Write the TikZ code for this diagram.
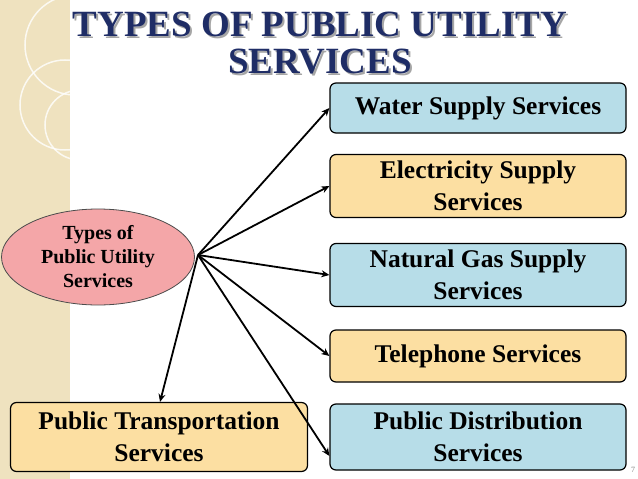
\documentclass[tikz,border=0pt]{standalone}
\usepackage{fontspec}
\setmainfont{Liberation Serif}
\usetikzlibrary{arrows.meta,shapes.geometric}
\definecolor{strip}{HTML}{EFE2BF}
\definecolor{bluebox}{HTML}{B7DDE8}
\definecolor{tanbox}{HTML}{FCDFA2}
\definecolor{pinkell}{HTML}{F4A6A8}
\definecolor{navy}{HTML}{1F2D66}
\tikzset{
 box/.style={draw=black,line width=1.2pt,rounded corners=6pt,align=center,font=\bfseries\fontsize{25.5}{32}\selectfont,inner sep=1pt},
 bluebx/.style={box,fill=bluebox},
 tanbx/.style={box,fill=tanbox},
 arr/.style={-{Stealth[length=8pt,width=7pt]},line width=1.8pt},
 ttl/.style={font=\bfseries\fontsize{37}{37}\selectfont,align=center}
}
\begin{document}
\begin{tikzpicture}[x=1pt,y=-1pt]
\useasboundingbox (0,0) rectangle (638,479);
\fill[white] (0,0) rectangle (638,479);
\fill[strip] (0,0) rectangle (70,479);
\draw[white,line width=1.5pt,opacity=0.8] (75,45) circle (50);
\draw[white,line width=1.5pt,opacity=0.8] (65,105) circle (45);
\draw[white,line width=1.5pt,opacity=0.8] (80,125) circle (35);
\node[ttl,text=gray!70] at (322,45) {TYPES OF PUBLIC UTILITY\\SERVICES};
\node[ttl,text=navy] (title) at (320,43) {TYPES OF PUBLIC UTILITY\\SERVICES};
\node[bluebx,minimum width=296pt,minimum height=50pt] (water) at (478,108) {Water Supply Services};
\node[tanbx,minimum width=296pt,minimum height=63pt] (elec) at (478,186) {Electricity Supply\\Services};
\node[bluebx,minimum width=296pt,minimum height=63pt] (gas) at (478,275) {Natural Gas Supply\\Services};
\node[tanbx,minimum width=296pt,minimum height=52pt] (tel) at (478,356) {Telephone Services};
\node[bluebx,minimum width=296pt,minimum height=66pt] (dist) at (478,437) {Public Distribution\\Services};
\node[tanbx,minimum width=297pt,minimum height=69pt] (trans) at (159,437) {Public Transportation\\Services};
\node[ellipse,draw=black!70,line width=0.8pt,fill=pinkell,minimum width=193pt,minimum height=96pt,align=center,inner sep=0pt,font=\bfseries\fontsize{20}{24}\selectfont] (hub) at (98,257) {Types of\\Public Utility\\Services};
\coordinate (s) at (198,255);
\draw[arr] (s) -- (water.west);
\draw[arr] (s) -- (elec.west);
\draw[arr] (s) -- (gas.west);
\draw[arr] (s) -- (tel.west);
\draw[arr] (s) -- ([yshift=-19pt]dist.west);
\draw[arr] (s) -- ([xshift=1pt]trans.north);
\node[font=\fontsize{8}{8}\selectfont,text=gray] (pg) at (633,470) {7};
\end{tikzpicture}
\end{document}
